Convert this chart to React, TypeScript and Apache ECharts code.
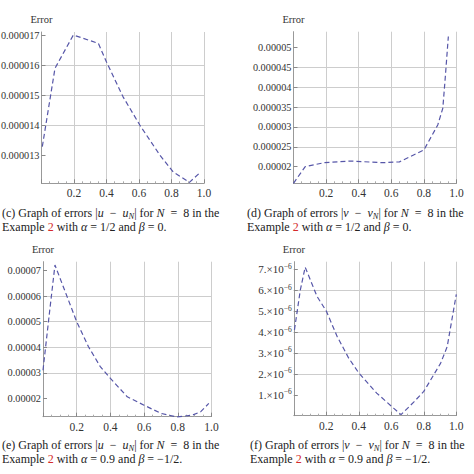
import React, { useEffect, useRef } from "react";
import * as echarts from "echarts";

// Panel (c): |u - u_N|, alpha = 1/2, beta = 0
const cX = [0.005, 0.083, 0.196, 0.35, 0.4, 0.502, 0.605, 0.728, 0.81, 0.91, 0.97];
const cY = [13.28e-6, 15.89e-6, 17.0e-6, 16.72e-6, 16.1e-6, 14.94e-6, 14.0e-6, 13.0e-6, 12.44e-6, 12.09e-6, 12.39e-6];
const cTicks = [0.000013, 0.000014, 0.000015, 0.000016, 0.000017];

// Panel (d): |v - v_N|, alpha = 1/2, beta = 0
const dX = [0.0, 0.072, 0.19, 0.35, 0.55, 0.65, 0.8, 0.885, 0.916, 0.93, 0.95];
const dY = [15.8e-6, 20.0e-6, 21.0e-6, 21.4e-6, 21.0e-6, 21.2e-6, 24.2e-6, 30.5e-6, 34.7e-6, 41.9e-6, 52.8e-6];
const dTicks = [0.00002, 0.000025, 0.00003, 0.000035, 0.00004, 0.000045, 0.00005];

// Panel (e): |u - u_N|, alpha = 0.9, beta = -1/2
const eX = [0.0, 0.038, 0.071, 0.2, 0.27, 0.34, 0.4, 0.5, 0.6, 0.7, 0.795, 0.885, 0.935, 0.984];
const eY = [31e-6, 53.3e-6, 72.2e-6, 50e-6, 40.2e-6, 32.4e-6, 27.8e-6, 20.6e-6, 17.3e-6, 14.1e-6, 12.7e-6, 13.4e-6, 14.7e-6, 18.0e-6];
const eTicks = [0.00002, 0.00003, 0.00004, 0.00005, 0.00006, 0.00007];

// Panel (f): |v - v_N|, alpha = 0.9, beta = -1/2
const fX = [0.004, 0.04, 0.07, 0.143, 0.2, 0.266, 0.338, 0.4, 0.51, 0.614, 0.66, 0.738, 0.8, 0.903, 0.944, 1.0];
const fY = [4.1e-6, 6.0e-6, 7.1e-6, 5.7e-6, 5.0e-6, 3.8e-6, 2.75e-6, 2.04e-6, 1.08e-6, 0.36e-6, 0.05e-6, 0.65e-6, 1.16e-6, 2.5e-6, 3.3e-6, 5.8e-6];
const fTicks = [1e-6, 2e-6, 3e-6, 4e-6, 5e-6, 6e-6, 7e-6];

const xTickLabels = ["0.2", "0.4", "0.6", "0.8", "1.0"];
const yName = "Error";

const captions = [
  { id: "c", fn: "u", line2: " = 1/2 and ", beta: " = 0." },
  { id: "d", fn: "v", line2: " = 1/2 and ", beta: " = 0." },
  { id: "e", fn: "u", line2: " = 0.9 and ", beta: " = \u22121/2." },
  { id: "f", fn: "v", line2: " = 0.9 and ", beta: " = \u22121/2." },
];

const SERIF = "Liberation Serif";
const LABEL_COLOR = "#333";
const LINE_COLOR = "#5656a8";
const GRID_COLOR = "#cdcdcd";

const panels = [
  { x: cX, y: cY, ticks: cTicks, min: 0.00001206, max: 0.0000171, grid: { left: 41.5, top: 32, width: 162.5, height: 151.3 }, fmt: "dec" },
  { x: dX, y: dY, ticks: dTicks, min: 0.0000158, max: 0.000054, grid: { left: 293.5, top: 31.7, width: 163, height: 151.6 }, fmt: "dec" },
  { x: eX, y: eY, ticks: eTicks, min: 0.0000128, max: 0.0000735, grid: { left: 43, top: 261.7, width: 168.5, height: 155 }, fmt: "dec" },
  { x: fX, y: fY, ticks: fTicks, min: 0, max: 0.00000736, grid: { left: 293.8, top: 261.7, width: 162.5, height: 154 }, fmt: "sci" },
];

function decLabel(v: number) {
  return Number(v.toFixed(7)).toString();
}

export default function App() {
  const ref = useRef<HTMLDivElement>(null);
  useEffect(() => {
    if (!ref.current) return;
    const chart = echarts.init(ref.current, null, { renderer: "svg" });

    const grids = panels.map((p) => ({ ...p.grid, outerBoundsMode: "none", containLabel: false }));

    const xAxes = panels.map((p, i) => ({
      type: "value",
      gridIndex: i,
      min: 0,
      max: 1,
      interval: 0.2,
      axisLine: { show: true, onZero: false, lineStyle: { color: "#999", width: 1 } },
      axisTick: { show: true, inside: true, length: 4, lineStyle: { color: "#888" } },
      minorTick: { show: true, splitNumber: 4, length: 2, lineStyle: { color: "#aaa" } },
      axisLabel: {
        show: true,
        margin: 4,
        showMinLabel: false,
        fontFamily: SERIF,
        fontSize: 11.5,
        color: LABEL_COLOR,
        formatter: (v: number) => {
          const idx = Math.round(v / 0.2) - 1;
          return idx >= 0 ? xTickLabels[idx] : "";
        },
      },
      splitLine: { show: true, lineStyle: { color: GRID_COLOR, width: 1 } },
    }));

    const yAxes = panels.map((p, i) => ({
      type: "value",
      gridIndex: i,
      min: p.min,
      max: p.max,
      name: yName,
      nameLocation: "end",
      nameGap: 7,
      nameTextStyle: { fontFamily: SERIF, fontSize: 10.5, color: LABEL_COLOR, align: "center" },
      axisLine: { show: true, onZero: false, lineStyle: { color: "#999", width: 1 } },
      axisTick: { show: true, inside: true, length: 4, customValues: p.ticks, lineStyle: { color: "#888" } },
      axisLabel: {
        show: true,
        margin: 2,
        customValues: p.ticks,
        fontFamily: SERIF,
        fontSize: 10.3,
        color: LABEL_COLOR,
        formatter:
          p.fmt === "sci"
            ? (v: number) => `{m|${Math.round(v * 1e6)}.\u00d710}{e|\u22126}`
            : (v: number) => decLabel(v),
        rich: {
          m: { fontFamily: SERIF, fontSize: 11, color: LABEL_COLOR, lineHeight: 14 },
          e: { fontFamily: SERIF, fontSize: 7.5, color: LABEL_COLOR, verticalAlign: "top", lineHeight: 8 },
        },
      },
      splitLine: { show: true, showMinLine: false, showMaxLine: false, lineStyle: { color: GRID_COLOR, width: 1 } },
    }));

    const series = panels.map((p, i) => ({
      type: "line",
      xAxisIndex: i,
      yAxisIndex: i,
      data: p.x.map((xv, k) => [xv, p.y[k]]),
      showSymbol: false,
      symbol: "none",
      lineStyle: { color: LINE_COLOR, width: 1.2, type: [5, 3] },
      clip: false,
    }));

    const capPos = [
      { x: 2, y1: 213, y2: 227 },
      { x: 247, y1: 213, y2: 227 },
      { x: 2, y1: 445, y2: 458.5 },
      { x: 250, y1: 445, y2: 458.5 },
    ];
    const FS = 12;
    const rich = {
      t: { fill: "#222", fontFamily: SERIF, fontSize: FS, lineHeight: 14 },
      i: { fill: "#222", fontFamily: SERIF, fontSize: FS, fontStyle: "italic", lineHeight: 14 },
      s: { fill: "#222", fontFamily: SERIF, fontSize: 8.5, fontStyle: "italic", verticalAlign: "bottom", lineHeight: 9 },
      r: { fill: "#d42a2a", fontFamily: SERIF, fontSize: FS, lineHeight: 14 },
    };
    const graphics: any[] = [];
    captions.forEach((c, i) => {
      const pos = capPos[i];
      graphics.push({
        type: "text",
        x: pos.x,
        y: pos.y1,
        style: {
          text: `{t|(${c.id}) Graph of errors |}{i|${c.fn}}{t|  \u2212  }{i|${c.fn}}{s|N}{t|| for }{i|N}{t|  =  8 in the}`,
          rich,
          verticalAlign: "middle",
          align: "left",
        },
      });
      graphics.push({
        type: "text",
        x: pos.x,
        y: pos.y2,
        style: {
          text: `{t|Example }{r|2}{t| with }{i|\u03b1}{t|${c.line2}}{i|\u03b2}{t|${c.beta}}`,
          rich,
          verticalAlign: "middle",
          align: "left",
        },
      });
    });

    chart.setOption({
      animation: false,
      backgroundColor: "#ffffff",
      grid: grids,
      xAxis: xAxes,
      yAxis: yAxes,
      series,
      graphic: graphics,
    });
    return () => chart.dispose();
  }, []);
  return <div ref={ref} style={{ position: "absolute", left: 0, top: 0, width: 474, height: 474 }} />;
}
